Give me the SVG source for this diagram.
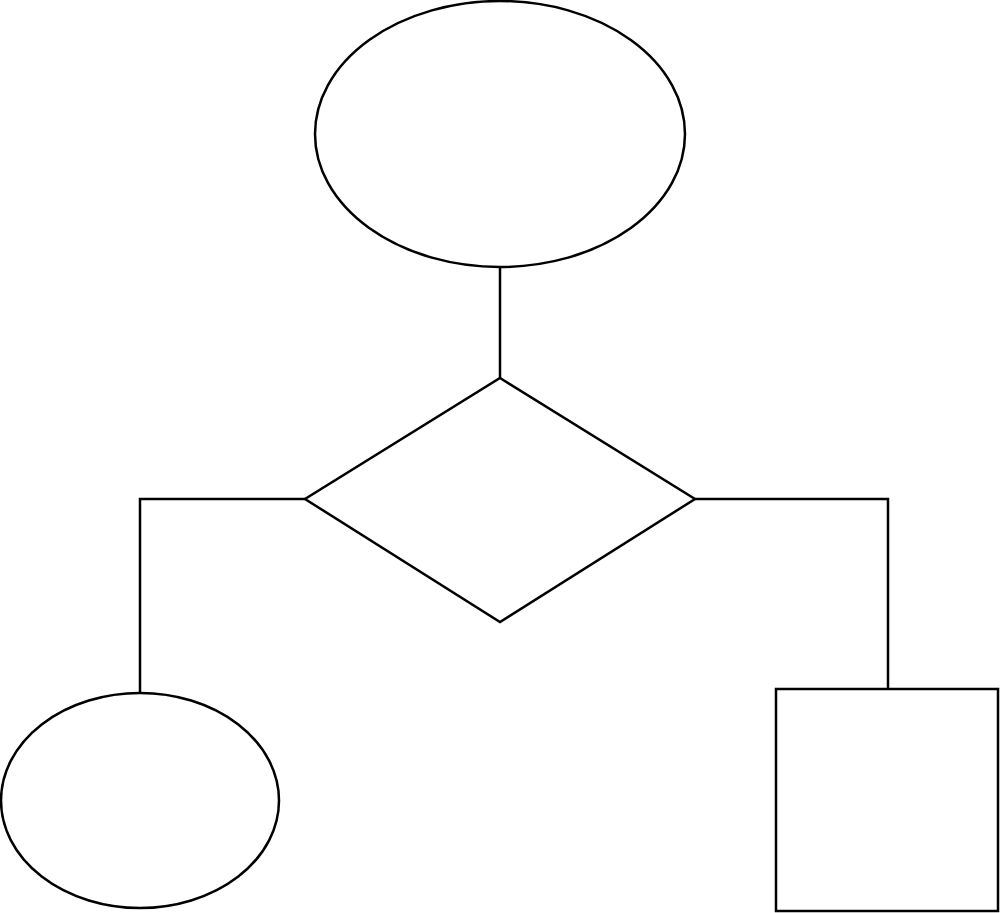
<svg xmlns="http://www.w3.org/2000/svg" width="1000" height="913" viewBox="0 0 1000 913">
<style>
.s{fill:#fff;stroke:#000;stroke-width:2.5}
.c{fill:none;stroke:#000;stroke-width:2.5}
</style>
<rect width="1000" height="913" fill="#fff"/>
<g id="connectors">
<path class="c" d="M500,267 V378"/>
<path class="c" d="M305,499 H140 V693"/>
<path class="c" d="M695,499 H888 V689"/>
</g>
<g id="start"><ellipse class="s" cx="500" cy="134" rx="185" ry="133"/></g>
<g id="decision"><polygon class="s" points="500,378 695,499 500,622 305,499"/></g>
<g id="left-end"><ellipse class="s" cx="140" cy="800.5" rx="139" ry="107.5"/></g>
<g id="right-box"><rect class="s" x="776" y="689" width="222" height="222"/></g>
</svg>
